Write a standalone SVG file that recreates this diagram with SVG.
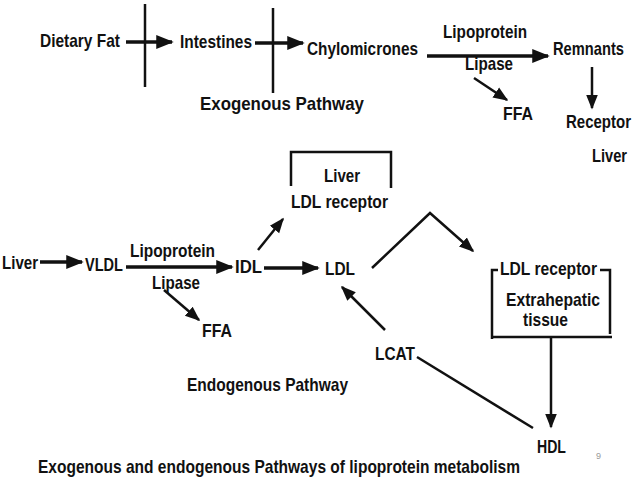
<svg xmlns="http://www.w3.org/2000/svg" width="638" height="479" viewBox="0 0 638 479">
<style>
text{font-family:"Liberation Sans",Arial,sans-serif;font-weight:bold;font-size:19px;fill:#111}
.l{stroke:#111;stroke-width:2.5;fill:none}
.t{stroke:#111;stroke-width:3.5;fill:none}
</style>
<defs><marker id="a" viewBox="0 0 10 10" refX="9" refY="5" markerWidth="5" markerHeight="5" orient="auto" markerUnits="strokeWidth"><path d="M0,1 L10,5 L0,9 Z" fill="#111"/></marker>
<marker id="b" viewBox="0 0 10 10" refX="9" refY="5" markerWidth="6" markerHeight="6" orient="auto" markerUnits="strokeWidth"><path d="M0,1 L10,5 L0,9 Z" fill="#111"/></marker></defs>
<rect width="638" height="479" fill="#fff"/>
<g id="connectors">
<line class="l" x1="145" y1="4" x2="145" y2="87"/>
<line class="l" x1="273" y1="8" x2="273" y2="93"/>
<line class="t" x1="126" y1="42" x2="172" y2="42" marker-end="url(#a)"/>
<line class="t" x1="255" y1="43" x2="303" y2="43" marker-end="url(#a)"/>
<line class="t" x1="427" y1="56" x2="548" y2="56" marker-end="url(#a)"/>
<line class="l" x1="474" y1="78" x2="507" y2="100" marker-end="url(#b)"/>
<line class="l" x1="592" y1="67" x2="592" y2="108" marker-end="url(#b)"/>
<line class="t" x1="40" y1="262" x2="82" y2="262" marker-end="url(#a)"/>
<line class="t" x1="126" y1="267" x2="232" y2="267" marker-end="url(#a)"/>
<line class="l" x1="164" y1="290" x2="199" y2="320" marker-end="url(#b)"/>
<line class="t" x1="264" y1="268" x2="318" y2="268" marker-end="url(#a)"/>
<line class="l" x1="258" y1="250" x2="283" y2="219" marker-end="url(#b)"/>
<polyline class="l" points="372,268 430,213 473,251" marker-end="url(#b)"/>
<line class="l" x1="551" y1="337" x2="551" y2="427" marker-end="url(#b)"/>
<line class="l" x1="533" y1="428" x2="417" y2="357"/>
<line class="l" x1="385" y1="330" x2="342" y2="287" marker-end="url(#b)"/>
</g>
<g id="n1"><text x="40" y="47" textLength="80" lengthAdjust="spacingAndGlyphs">Dietary Fat</text></g>
<g id="n2"><text x="180" y="48" textLength="72" lengthAdjust="spacingAndGlyphs">Intestines</text></g>
<g id="n3"><text x="307" y="55" textLength="111" lengthAdjust="spacingAndGlyphs">Chylomicrones</text></g>
<g id="n4"><text x="443" y="38" textLength="84" lengthAdjust="spacingAndGlyphs">Lipoprotein</text><text x="465" y="70" textLength="48" lengthAdjust="spacingAndGlyphs">Lipase</text></g>
<g id="n5"><text x="553" y="55" textLength="71" lengthAdjust="spacingAndGlyphs">Remnants</text></g>
<g id="n6"><text x="503" y="120" textLength="30" lengthAdjust="spacingAndGlyphs">FFA</text></g>
<g id="n7"><text x="566" y="128" textLength="65" lengthAdjust="spacingAndGlyphs">Receptor</text><text x="592" y="162" textLength="35" lengthAdjust="spacingAndGlyphs">Liver</text></g>
<g id="t1"><text x="200" y="110" textLength="164" lengthAdjust="spacingAndGlyphs">Exogenous Pathway</text></g>
<g id="n8"><polyline class="l" points="291,186 291,152 391,152 391,188"/><text x="324" y="182" textLength="36" lengthAdjust="spacingAndGlyphs">Liver</text><text x="291" y="208" textLength="97" lengthAdjust="spacingAndGlyphs">LDL receptor</text></g>
<g id="n9"><text x="2" y="269" textLength="36" lengthAdjust="spacingAndGlyphs">Liver</text></g>
<g id="n10"><text x="85" y="271" textLength="38" lengthAdjust="spacingAndGlyphs">VLDL</text></g>
<g id="n11"><text x="130" y="257" textLength="85" lengthAdjust="spacingAndGlyphs">Lipoprotein</text><text x="152" y="289" textLength="48" lengthAdjust="spacingAndGlyphs">Lipase</text></g>
<g id="n12"><text x="202" y="337" textLength="30" lengthAdjust="spacingAndGlyphs">FFA</text></g>
<g id="n13"><text x="235" y="273" textLength="27" lengthAdjust="spacingAndGlyphs">IDL</text></g>
<g id="n14"><text x="325" y="275" textLength="30" lengthAdjust="spacingAndGlyphs">LDL</text></g>
<g id="n15"><polyline class="l" points="498,270 492,270 492,339"/><polyline class="l" points="600,270 610,270 610,334"/><line class="l" x1="491" y1="337" x2="612" y2="337"/><text x="500" y="275" textLength="97" lengthAdjust="spacingAndGlyphs">LDL receptor</text><text x="506" y="306" textLength="94" lengthAdjust="spacingAndGlyphs">Extrahepatic</text><text x="523" y="326" textLength="45" lengthAdjust="spacingAndGlyphs">tissue</text></g>
<g id="n16"><text x="375" y="360" textLength="40" lengthAdjust="spacingAndGlyphs">LCAT</text></g>
<g id="n17"><text x="537" y="453" textLength="29" lengthAdjust="spacingAndGlyphs">HDL</text></g>
<g id="t2"><text x="187" y="391" textLength="161" lengthAdjust="spacingAndGlyphs">Endogenous Pathway</text></g>
<text x="38" y="473" textLength="482" lengthAdjust="spacingAndGlyphs">Exogenous and endogenous Pathways of lipoprotein metabolism</text>
<text x="596" y="459" style="font-size:9px;font-weight:normal;fill:#999">9</text>
</svg>
